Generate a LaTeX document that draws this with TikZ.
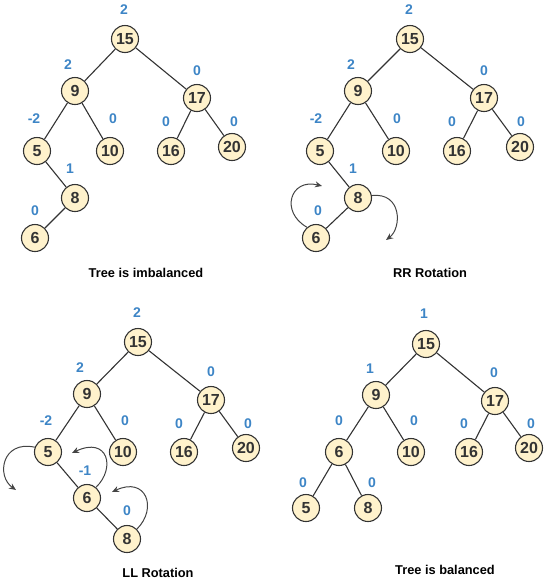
\documentclass[tikz,border=0pt]{standalone}
\usepackage{fontspec}
\setmainfont{Liberation Sans}
\usetikzlibrary{arrows.meta}
\definecolor{nodefill}{HTML}{FFF2CC}
\definecolor{nodeline}{HTML}{333333}
\definecolor{lblblue}{HTML}{3D85C6}
\definecolor{arcgray}{HTML}{444444}
\tikzset{
  tn/.style={circle, draw=nodeline, fill=nodefill, line width=1.1pt, minimum size=27pt, inner sep=0pt,
    font=\bfseries\fontsize{16}{16}\selectfont, text=nodeline},
  bf/.style={text=lblblue, font=\bfseries\fontsize{14}{14}\selectfont, inner sep=0pt},
  captext/.style={font=\bfseries\fontsize{12.8}{12.8}\selectfont, inner sep=0pt},
  treeedge/.style={draw=nodeline, line width=1.1pt},
  rot/.style={draw=arcgray, line width=1pt, -{Stealth[length=7pt,width=6pt]}},
}
\begin{document}
\begin{tikzpicture}[x=1pt,y=-1pt]
\useasboundingbox (0,0) rectangle (546,582);
% ---------- Panel A: Tree is imbalanced ----------
\node[tn] (a15) at (125,39) {15};
\node[tn] (a9) at (75,91) {9};
\node[tn] (a17) at (197,98) {17};
\node[tn] (a5) at (37,151) {5};
\node[tn] (a10) at (110,151) {10};
\node[tn] (a16) at (171,151) {16};
\node[tn] (a20) at (232,147) {20};
\node[tn] (a8) at (75,198) {8};
\node[tn] (a6) at (35,238) {6};
\foreach \u/\v in {a15/a9,a15/a17,a9/a5,a9/a10,a17/a16,a17/a20,a5/a8,a8/a6}
  \draw[treeedge] (\u) -- (\v);
\node[bf] (la15) at (124,10) {2};
\node[bf] (la9) at (68,65) {2};
\node[bf] (la17) at (197,71) {0};
\node[bf] (la5) at (34,119) {-2};
\node[bf] (la10) at (113,119) {0};
\node[bf] (la16) at (166,122) {0};
\node[bf] (la20) at (234,122) {0};
\node[bf] (la8) at (70,169) {1};
\node[bf] (la6) at (35,211) {0};
\node[captext] (capa) at (146,273) {Tree is imbalanced};
% ---------- Panel B: RR Rotation ----------
\node[tn] (b15) at (410,39) {15};
\node[tn] (b9) at (358,91) {9};
\node[tn] (b17) at (484,98) {17};
\node[tn] (b5) at (320,151) {5};
\node[tn] (b10) at (396,151) {10};
\node[tn] (b16) at (457,151) {16};
\node[tn] (b20) at (520,147) {20};
\node[tn] (b8) at (358,198) {8};
\node[tn] (b6) at (316,238) {6};
\foreach \u/\v in {b15/b9,b15/b17,b9/b5,b9/b10,b17/b16,b17/b20,b5/b8,b8/b6}
  \draw[treeedge] (\u) -- (\v);
\node[bf] (lb15) at (409,10) {2};
\node[bf] (lb9) at (351,65) {2};
\node[bf] (lb17) at (484,71) {0};
\node[bf] (lb5) at (316,119) {-2};
\node[bf] (lb10) at (397,119) {0};
\node[bf] (lb16) at (452,122) {0};
\node[bf] (lb20) at (521,122) {0};
\node[bf] (lb8) at (353,169) {1};
\node[bf] (lb6) at (318,211) {0};
\node[captext] (capb) at (430,273) {RR Rotation};
\coordinate (rb1) at (322,186);
\coordinate (rb2) at (386,240);
\draw[rot] (b6.130) .. controls (280,212) and (290,178) .. (rb1);
\draw[rot] (b8.10) .. controls (402,192) and (402,228) .. (rb2);
% ---------- Panel C: LL Rotation ----------
\node[tn] (c15) at (138,342) {15};
\node[tn] (c9) at (87,394) {9};
\node[tn] (c17) at (211,400) {17};
\node[tn] (c5) at (48,452) {5};
\node[tn] (c10) at (123,452) {10};
\node[tn] (c16) at (184,452) {16};
\node[tn] (c20) at (246,448) {20};
\node[tn] (c6) at (87,498) {6};
\node[tn] (c8) at (127,539) {8};
\foreach \u/\v in {c15/c9,c15/c17,c9/c5,c9/c10,c17/c16,c17/c20,c5/c6,c6/c8}
  \draw[treeedge] (\u) -- (\v);
\node[bf] (lc15) at (137,313) {2};
\node[bf] (lc9) at (80,368) {2};
\node[bf] (lc17) at (211,372) {0};
\node[bf] (lc5) at (46,421) {-2};
\node[bf] (lc10) at (125,421) {0};
\node[bf] (lc16) at (179,424) {0};
\node[bf] (lc20) at (248,424) {0};
\node[bf] (lc6) at (85,471) {-1};
\node[bf] (lc8) at (127,511) {0};
\node[captext] (capc) at (158,573) {LL Rotation};
\coordinate (rc1) at (16,490);
\coordinate (rc2) at (72,453);
\coordinate (rc3) at (112,492);
\draw[rot] (c5.160) .. controls (2,440) and (-4,476) .. (rc1);
\draw[rot] (c6.50) .. controls (116,468) and (108,436) .. (rc2);
\draw[rot] (c8.45) .. controls (158,508) and (146,476) .. (rc3);
% ---------- Panel D: Tree is balanced ----------
\node[tn] (d15) at (426,344) {15};
\node[tn] (d9) at (376,395) {9};
\node[tn] (d17) at (495,401) {17};
\node[tn] (d6) at (339,452) {6};
\node[tn] (d10) at (411,452) {10};
\node[tn] (d16) at (469,452) {16};
\node[tn] (d20) at (529,448) {20};
\node[tn] (d5) at (306,508) {5};
\node[tn] (d8) at (368,508) {8};
\foreach \u/\v in {d15/d9,d15/d17,d9/d6,d9/d10,d17/d16,d17/d20,d6/d5,d6/d8}
  \draw[treeedge] (\u) -- (\v);
\node[bf] (ld15) at (424,314) {1};
\node[bf] (ld9) at (370,369) {1};
\node[bf] (ld17) at (494,373) {0};
\node[bf] (ld6) at (339,421) {0};
\node[bf] (ld10) at (414,421) {0};
\node[bf] (ld16) at (464,424) {0};
\node[bf] (ld20) at (531,424) {0};
\node[bf] (ld5) at (303,483) {0};
\node[bf] (ld8) at (372,483) {0};
\node[captext] (capd) at (445,570) {Tree is balanced};
\end{tikzpicture}
\end{document}
